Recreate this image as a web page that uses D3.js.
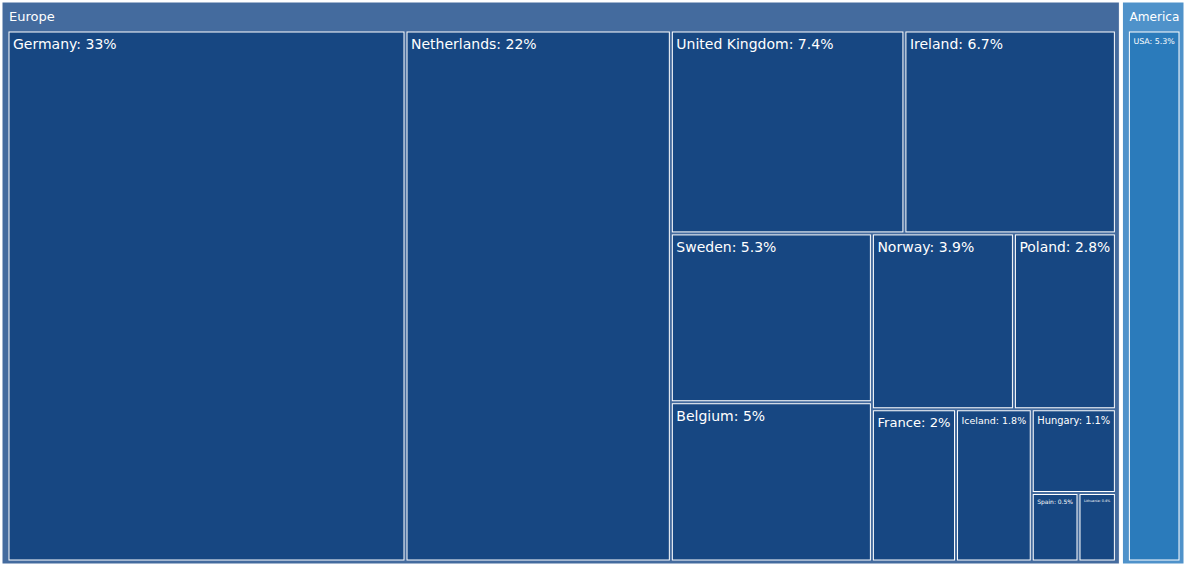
<!DOCTYPE html>
<html>
<head>
<meta charset="utf-8">
<script src="https://cdn.jsdelivr.net/npm/d3@7"></script>
<style>
  body { margin: 0; background: #fff; }
  svg text { font-family: "DejaVu Sans", sans-serif; fill: #fff; }
</style>
</head>
<body>
<svg id="chart" width="1184" height="565"></svg>
<script>
// regions and their countries (percent of total)
const regions = ["Europe", "America"];
const countries = ["Germany", "Netherlands", "United Kingdom", "Ireland", "Sweden", "Belgium",
  "Norway", "Poland", "France", "Iceland", "Hungary", "Spain", "Lithuania", "USA"];
const countryRegion = ["Europe", "Europe", "Europe", "Europe", "Europe", "Europe",
  "Europe", "Europe", "Europe", "Europe", "Europe", "Europe", "Europe", "America"];
const shares = [33, 22, 7.4, 6.7, 5.3, 5, 3.9, 2.8, 2, 1.8, 1.1, 0.5, 0.4, 5.3];

const headerColor = { Europe: "#446b9e", America: "#4f92ca" };
const leafColor = { Europe: "#174782", America: "#2b7bbb" };

const width = 1184, height = 565;
const svg = d3.select("#chart");

const data = {
  name: "root",
  children: regions.map(r => ({
    name: r,
    children: countries
      .map((c, i) => ({ name: c, value: shares[i], region: countryRegion[i] }))
      .filter(d => d.region === r)
  }))
};

const root = d3.hierarchy(data)
  .sum(d => d.value || 0)
  .sort((a, b) => b.value - a.value);

d3.treemap()
  .tile(d3.treemapSquarify.ratio(1))
  .size([width, height])
  .paddingInner(3)
  .paddingTop(d => d.depth === 0 ? 2 : 30)
  .paddingLeft(d => d.depth === 0 ? 2 : 7)
  .paddingRight(d => d.depth === 0 ? 0 : 5)
  .paddingBottom(d => d.depth === 0 ? 1 : 4)
  (root);

// fit label into box width, max size given
function fitText(sel, maxSize, avail) {
  sel.each(function () {
    const t = d3.select(this);
    t.attr("font-size", maxSize);
    const w = this.getComputedTextLength();
    if (w > avail) t.attr("font-size", Math.max(3, maxSize * avail / w));
  });
}

// parents
const parents = svg.selectAll("g.parent")
  .data(root.children)
  .join("g")
  .attr("class", "parent");

parents.append("rect")
  .attr("x", d => d.x0)
  .attr("y", d => d.y0)
  .attr("width", d => d.x1 - d.x0)
  .attr("height", d => d.y1 - d.y0)
  .attr("fill", d => headerColor[d.data.name])
  .attr("stroke", "#fff")
  .attr("stroke-width", 1);

parents.append("text")
  .text(d => d.data.name)
  .attr("x", d => d.x0 + 7)
  .attr("y", d => d.y0 + 19)
  .call(fitText, 13, 50);

// leaves
const leaves = svg.selectAll("g.leaf")
  .data(root.leaves())
  .join("g")
  .attr("class", "leaf");

leaves.append("rect")
  .attr("x", d => d.x0)
  .attr("y", d => d.y0)
  .attr("width", d => d.x1 - d.x0)
  .attr("height", d => d.y1 - d.y0)
  .attr("fill", d => leafColor[d.data.region])
  .attr("stroke", "#fff")
  .attr("stroke-width", 1);

leaves.append("text")
  .text(d => d.data.name + ": " + d.data.value + "%")
  .attr("x", d => d.x0 + 4)
  .each(function (d) {
    const t = d3.select(this);
    t.attr("font-size", 14);
    const avail = d.x1 - d.x0 - 8;
    const w = this.getComputedTextLength();
    const fs = w > avail ? Math.max(3, 14 * avail / w) : 14;
    t.attr("font-size", fs).attr("y", d.y0 + 4 + fs * 0.95);
  });
</script>
</body>
</html>
